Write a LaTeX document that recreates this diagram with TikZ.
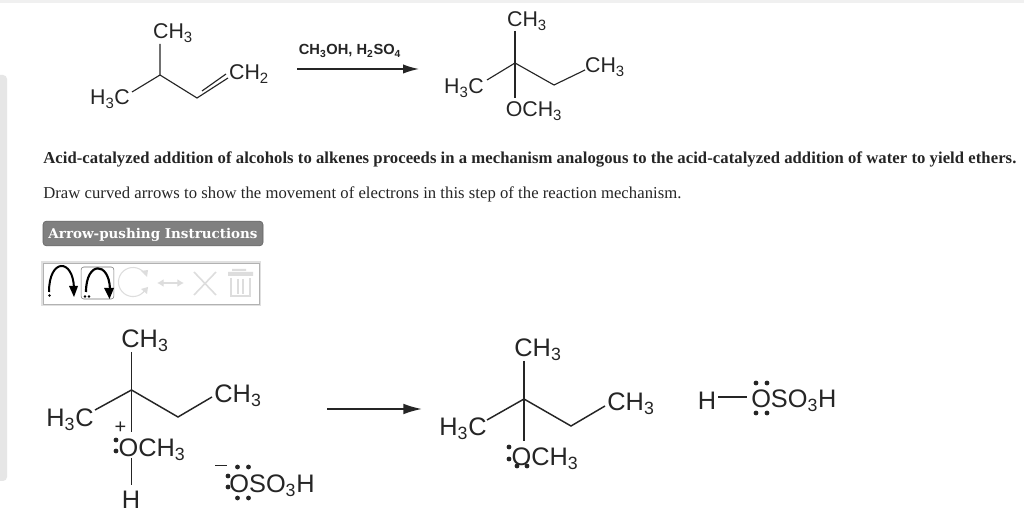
\documentclass[tikz,border=0pt]{standalone}
\usepackage{fontspec}
\setmainfont{Liberation Sans}
\newfontfamily\chemf{Liberation Sans}
\newfontfamily\serb[LetterSpace=0.35]{Liberation Serif Bold}
\newfontfamily\serr[LetterSpace=0.25]{Liberation Serif}
\newfontfamily\dejab{DejaVu Serif Bold}
\usetikzlibrary{arrows.meta}
\definecolor{bond}{HTML}{252525}
\definecolor{panel}{HTML}{E6E6E6}
\definecolor{toolg}{HTML}{DDDDDD}
\tikzset{x=0.75pt,y=-0.75pt,
  bondl/.style={draw=bond,line width=1.1pt},
  bonds/.style={draw=bond,line width=0.85pt},
  big/.style={inner sep=0pt,text=bond,font=\chemf\fontsize{19}{19}\selectfont},
  small/.style={inner sep=0pt,text=bond,font=\chemf\fontsize{16}{16}\selectfont},
  el/.style={circle,fill=bond,inner sep=0pt,minimum size=3.6pt},
  rxn/.style={draw=bond,line width=1.3pt,-{Latex[length=14pt,width=8pt]}},
  rxs/.style={draw=bond,line width=1.1pt,-{Latex[length=12pt,width=7pt]}}}
\begin{document}
\begin{tikzpicture}
\useasboundingbox (0,0) rectangle (1024,530);
\fill[white] (0,0) rectangle (1024,530);
\fill[panel!60] (0,0) rectangle (1024,3);
\fill[panel,rounded corners=3pt] (-5,75) rectangle (7,481);
% top left
\node[small] (a1) at (173,33) {CH\textsubscript{3}};
\node[small] (a2) at (110,99) {H\textsubscript{3}C};
\node[small] (a3) at (249,74) {CH\textsubscript{2}};
\coordinate (c1) at (160,75);
\coordinate (c2) at (197,98);
\draw[bonds] (160,44) -- (c1) -- (132,92);
\draw[bonds] (c1) -- (c2) -- (228,78);
\draw[bonds] (202,91) -- (226,74);
% reagent
\node[inner sep=0pt,text=bond,font=\chemf\bfseries\fontsize{11}{11}\selectfont] (r1) at (350,51) {CH\textsubscript{3}OH, H\textsubscript{2}SO\textsubscript{4}};
\coordinate (r2) at (297,69);
\coordinate (r3) at (419,69);
\draw[rxs] (r2) -- (r3);
% top right
\node[small] (b1) at (527,21) {CH\textsubscript{3}};
\node[small] (b2) at (464,88) {H\textsubscript{3}C};
\node[small] (b3) at (605,67) {CH\textsubscript{3}};
\node[small] (b4) at (534,111) {OCH\textsubscript{3}};
\coordinate (d1) at (515,63);
\coordinate (d2) at (554,85);
\draw[bonds] (515,31) -- (d1) -- (515,98);
\draw[bonds] (d1) -- (487,80);
\draw[bonds] (d1) -- (d2) -- (585,70);
% text
\node[anchor=base west,inner sep=0pt,text=bond,font=\serb\fontsize{12.5}{12.5}\selectfont] (t1) at (43,164) {Acid-catalyzed addition of alcohols to alkenes proceeds in a mechanism analogous to the acid-catalyzed addition of water to yield ethers.};
\node[anchor=base west,inner sep=0pt,text=bond,font=\serr\fontsize{12.5}{12.5}\selectfont] (t2) at (43,199) {Draw curved arrows to show the movement of electrons in this step of the reaction mechanism.};
% button
\node[fill=black!50,draw=black!62,rounded corners=2.5pt,minimum width=165pt,text=white,inner sep=0pt,minimum height=18.5pt] (btn) at (153,233.5) {};
\node[text=white,inner sep=0pt,font=\dejab\fontsize{10.1}{10.1}\selectfont] (btnt) at (153,235) {Arrow-pushing Instructions};
% toolbar
\fill[black!12] (41,261) rectangle (261,306);
\node[draw=black!30,fill=white,minimum width=162pt,minimum height=30.5pt,inner sep=0pt] (tb) at (151,283.5) {};
\draw[black,line width=1.5pt] (49,292) .. controls (49,258) and (73,258) .. (74,288);
\fill[black] (69,286) -- (78,286) -- (74,297) -- cycle;
\fill[black] (49.5,295.5) circle (1.1pt);
\node[draw=black!55,rounded corners=2pt,minimum width=24.5pt,minimum height=24pt,inner sep=0pt] (tb2) at (97.5,283) {};
\draw[black,line width=1.6pt] (86,292) .. controls (86,261) and (109,261) .. (110,289);
\fill[black] (104,288) -- (114,288) -- (109.5,299) -- cycle;
\fill[black] (85,296.5) circle (1pt) (89,296.5) circle (1pt);
\draw[toolg,line width=0.8pt] (145.6,274.75) arc (30:330:10.9pt);
\fill[toolg] (141,271) -- (148,270) -- (147,277) -- cycle;
\fill[toolg] (141,289) -- (148,287) -- (147,294) -- cycle;
\draw[toolg,line width=1.1pt,{Latex[length=5pt,width=6pt]}-{Latex[length=5pt,width=6pt]}] (157,283) -- (184,283);
\draw[toolg,line width=1.2pt] (194,272) -- (216,295) (216,272) -- (194,295);
\fill[toolg] (232,269) rectangle (246,271) (228,272) rectangle (253,276);
\draw[toolg,line width=2pt] (231,278) -- (231,296) -- (250,296) -- (250,278) (238,279) -- (238,294) (243,279) -- (243,294);
% bottom left
\node[big] (e1) at (145,341) {CH\textsubscript{3}};
\node[big] (e2) at (70,420) {H\textsubscript{3}C};
\node[big] (e3) at (238,396) {CH\textsubscript{3}};
\node[big] (e4) at (152,450) {OCH\textsubscript{3}};
\node[big] (e5) at (131,500) {H};
\node[inner sep=0pt,text=bond,font=\chemf\fontsize{15}{15}\selectfont] (ep) at (120.5,428) {+};
\coordinate (f1) at (131.5,390);
\coordinate (f2) at (178,417);
\draw[bondl] (131.5,352) -- (f1) -- (131.5,432);
\draw[bondl] (f1) -- (95,410);
\draw[bondl] (f1) -- (f2) -- (212,397);
\draw[bondl] (131.5,458) -- (131.5,485);
\node[el] (g1) at (116,440) {};
\node[el] (g2) at (116,451) {};
% sulfate
\node[big] (h1) at (272,486) {OSO\textsubscript{3}H};
\draw[bond,line width=0.7pt] (215,465) -- (227,465);
\foreach \p/\n in {237/h2,248/h3}{\node[el] (\n t) at (\p.5,467) {};\node[el] (\n b) at (\p.5,498) {};}
\node[el] (h4) at (228,476) {};
\node[el] (h5) at (228,487) {};
% arrow
\coordinate (k1) at (327,409);
\coordinate (k2) at (422,409);
\draw[rxn] (k1) -- (k2);
% bottom right
\node[big] (m1) at (538,350) {CH\textsubscript{3}};
\node[big] (m2) at (463,429) {H\textsubscript{3}C};
\node[big] (m3) at (631,404) {CH\textsubscript{3}};
\node[big] (m4) at (545,459) {OCH\textsubscript{3}};
\coordinate (n1) at (524,399);
\coordinate (n2) at (571,426);
\draw[bondl] (524,361) -- (n1) -- (524,441);
\draw[bondl] (n1) -- (487,420);
\draw[bondl] (n1) -- (n2) -- (605,406);
\node[el] (p1) at (509,447) {};
\node[el] (p2) at (509,459) {};
\node[el] (p3) at (517,466) {};
\node[el] (p4) at (527,466) {};
% HOSO3H
\node[big] (q1) at (707,401) {H};
\node[big,anchor=west] (q2) at (751,401) {OSO\textsubscript{3}H};
\draw[bondl] (718,397) coordinate (q3) -- (747,397) coordinate (q4);
\node[el] (s1) at (756,383) {};
\node[el] (s2) at (767,383) {};
\node[el] (s3) at (756,413) {};
\node[el] (s4) at (767,413) {};
\end{tikzpicture}
\end{document}
